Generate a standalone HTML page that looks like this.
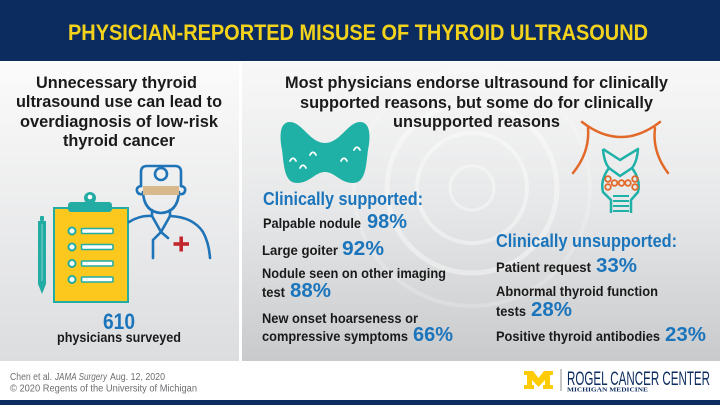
<!DOCTYPE html>
<html><head><meta charset="utf-8"><style>
html,body{margin:0;padding:0;background:#fff;}
svg{display:block;}
text{font-family:"Liberation Sans",sans-serif;}
</style></head><body>
<svg width="720" height="405" viewBox="0 0 720 405" xmlns="http://www.w3.org/2000/svg">
<defs>
<linearGradient id="gl" x1="0" y1="0" x2="0" y2="1">
<stop offset="0" stop-color="#fbfbfb"/><stop offset="1" stop-color="#dcdddf"/></linearGradient>
<linearGradient id="gr" x1="0" y1="0" x2="0" y2="1">
<stop offset="0" stop-color="#f8f8f8"/><stop offset="0.5" stop-color="#e6e7e8"/><stop offset="1" stop-color="#c9cacc"/></linearGradient>
</defs>
<rect width="720" height="405" fill="#ffffff"/>
<!-- header -->
<rect x="0" y="0" width="720" height="61" fill="#0c2c5f"/>
<text x="68" y="40" font-size="22" font-weight="bold" fill="#f3d21c" textLength="580" lengthAdjust="spacingAndGlyphs">PHYSICIAN-REPORTED MISUSE OF THYROID ULTRASOUND</text>
<!-- panels -->
<rect x="0" y="62" width="239" height="299" fill="url(#gl)"/>
<rect x="242" y="62" width="478" height="299" fill="url(#gr)"/>
<g fill="none" stroke="#ffffff" stroke-opacity="0.4">
<circle cx="472" cy="188" r="22" stroke-width="3"/>
<circle cx="472" cy="188" r="55" stroke-width="4"/>
<circle cx="472" cy="188" r="85" stroke-width="5"/>
<circle cx="472" cy="188" r="118" stroke-width="4" stroke-opacity="0.2"/>
</g>
<!-- left heading -->
<g font-weight="bold" font-size="17" fill="#1a1a1a" text-anchor="middle">
<text x="116.5" y="88" textLength="161" lengthAdjust="spacingAndGlyphs">Unnecessary thyroid</text>
<text x="119" y="107" textLength="206" lengthAdjust="spacingAndGlyphs">ultrasound use can lead to</text>
<text x="119" y="127" textLength="198" lengthAdjust="spacingAndGlyphs">overdiagnosis of low-risk</text>
<text x="119" y="146" textLength="112" lengthAdjust="spacingAndGlyphs">thyroid cancer</text>
</g>
<!-- pencil -->
<g fill="#22aca4">
<rect x="40" y="216" width="4" height="5" rx="1"/>
<rect x="38" y="221" width="8" height="63"/>
<polygon points="38,284 46,284 42,294"/>
</g>
<line x1="42" y1="224" x2="42" y2="281" stroke="#7fd3cd" stroke-width="1"/>
<!-- clipboard -->
<rect x="54" y="208" width="74" height="94" fill="#fcc81e" stroke="#22aca4" stroke-width="2"/>
<circle cx="90" cy="198" r="6" fill="#22aca4"/>
<circle cx="90" cy="197" r="2.3" fill="#fff"/>
<rect x="68" y="202" width="44" height="10" rx="3" fill="#22aca4"/>
<g fill="#ffffff" stroke="#22aca4" stroke-width="2">
<circle cx="72" cy="231" r="3.5"/><circle cx="72" cy="247" r="3.5"/><circle cx="72" cy="263.5" r="3.5"/><circle cx="72" cy="279.5" r="3.5"/>
</g>
<g fill="#ffffff" stroke="#22aca4" stroke-width="1.6">
<rect x="81.5" y="228.5" width="31.5" height="5" rx="1"/>
<rect x="81.5" y="244.5" width="31.5" height="5" rx="1"/>
<rect x="81.5" y="261" width="31.5" height="5" rx="1"/>
<rect x="81.5" y="277" width="31.5" height="5" rx="1"/>
</g>
<!-- doctor -->
<g fill="none" stroke="#1f73b7" stroke-width="2.6" stroke-linecap="round" stroke-linejoin="round">
<path d="M141,186 L141,172 Q141,166 147,166 L175,166 Q181,166 181,172 L181,186"/>
<circle cx="161" cy="174" r="6"/>
<path d="M143,192 Q144,212 161,213 Q178,212 179,192"/>
<path d="M141,186 Q136,187 137,191 Q138,195 143,194"/>
<path d="M181,186 Q186,187 185,191 Q184,195 179,194"/>
<path d="M152,210 L152,216 M170,210 L170,216"/>
<path d="M129,222 Q140,215 152,216 L161,232 L170,216 Q193,217 203,232 Q209,243 210,258"/>
<path d="M161,232 L153,240 L153,258"/>
<path d="M161,232 L168,238"/>
</g>
<rect x="143" y="186" width="36" height="9" fill="#d7b98c"/>
<g fill="#c1272d"><rect x="173.5" y="242.2" width="15.5" height="3.6"/><rect x="179.4" y="236.5" width="3.6" height="15"/></g>
<!-- 610 -->
<text x="119" y="329" text-anchor="middle" font-weight="bold" font-size="22" fill="#1b75bc" textLength="32" lengthAdjust="spacingAndGlyphs">610</text>
<text x="119" y="342" text-anchor="middle" font-weight="bold" font-size="13.5" fill="#1a1a1a" textLength="124" lengthAdjust="spacingAndGlyphs">physicians surveyed</text>
<!-- right heading -->
<g font-weight="bold" font-size="17" fill="#1a1a1a">
<text x="285" y="88" textLength="383" lengthAdjust="spacingAndGlyphs">Most physicians endorse ultrasound for clinically</text>
<text x="300" y="108" textLength="353" lengthAdjust="spacingAndGlyphs">supported reasons, but some do for clinically</text>
<text x="393" y="127" textLength="167" lengthAdjust="spacingAndGlyphs">unsupported reasons</text>
</g>
<!-- thyroid icon -->
<path d="M290,122 C280,122 279,135 282,150 C284,165 284,183 297,183 C310,183 315,172 325,172 C335,172 340,183 353,183 C366,183 366,165 368,150 C371,135 370,122 360,122 C348,122 340,143 325,143 C310,143 302,122 290,122 Z" fill="#20b1a6"/>
<g fill="none" stroke="#ffffff" stroke-width="1.8" stroke-linecap="round">
<path d="M290,161 Q293,155.5 296,161"/>
<path d="M310,155 Q313,149.5 316,155"/>
<path d="M300,168 Q303,162.5 306,168"/>
<path d="M341,161 Q344,155.5 347,161"/>
<path d="M354,150 Q357,144.5 360,150"/>
</g>
<!-- unsupported icon -->
<g fill="none" stroke="#e2692a" stroke-width="2.5" stroke-linecap="round">
<path d="M582,122 Q621,152 660,122"/>
<path d="M588,128 Q590,152 573,173"/>
<path d="M655,128 Q652,152 668,173"/>
</g>
<g fill="none" stroke="#1fb0a8" stroke-width="2.5" stroke-linejoin="round">
<path d="M603,149 L620,160 L638,149 Q637,162 632,168 Q641,180 638,192 L631,200 L631,213"/>
<path d="M603,149 Q604,162 609,168 Q600,180 603,192 L611,200 L611,213"/>
<path d="M609,168 L620,176 L632,168"/>
</g>
<g stroke="#1fb0a8" stroke-width="2">
<line x1="613" y1="196" x2="629" y2="196"/><line x1="613" y1="201" x2="629" y2="201"/><line x1="613" y1="206" x2="629" y2="206"/><line x1="613" y1="211" x2="629" y2="211"/>
</g>
<g fill="none" stroke="#e2692a" stroke-width="1.8">
<circle cx="608" cy="179" r="2.8"/><circle cx="608" cy="187" r="2.8"/><circle cx="614.5" cy="183" r="2.8"/>
<circle cx="621.5" cy="183" r="2.8"/><circle cx="628" cy="183" r="2.8"/>
<circle cx="635" cy="179" r="2.8"/><circle cx="635" cy="187" r="2.8"/>
</g>
<!-- supported list -->
<text x="263" y="205" font-weight="bold" font-size="18" fill="#1b75bc" textLength="160" lengthAdjust="spacingAndGlyphs">Clinically supported:</text>
<g font-weight="bold" font-size="14" fill="#1a1a1a">
<text x="263" y="228" textLength="98" lengthAdjust="spacingAndGlyphs">Palpable nodule</text>
<text x="262" y="255" textLength="76" lengthAdjust="spacingAndGlyphs">Large goiter</text>
<text x="262" y="278" textLength="184" lengthAdjust="spacingAndGlyphs">Nodule seen on other imaging</text>
<text x="262" y="297" textLength="23" lengthAdjust="spacingAndGlyphs">test</text>
<text x="262" y="323" textLength="156" lengthAdjust="spacingAndGlyphs">New onset hoarseness or</text>
<text x="262" y="341" textLength="146" lengthAdjust="spacingAndGlyphs">compressive symptoms</text>
<text x="496" y="272" textLength="95" lengthAdjust="spacingAndGlyphs">Patient request</text>
<text x="496" y="296" textLength="162" lengthAdjust="spacingAndGlyphs">Abnormal thyroid function</text>
<text x="496" y="316" textLength="30" lengthAdjust="spacingAndGlyphs">tests</text>
<text x="496" y="341" textLength="164" lengthAdjust="spacingAndGlyphs">Positive thyroid antibodies</text>
</g>
<g font-weight="bold" font-size="20" fill="#1b75bc">
<text x="367" y="228" textLength="40" lengthAdjust="spacingAndGlyphs">98%</text>
<text x="342" y="255" textLength="42" lengthAdjust="spacingAndGlyphs">92%</text>
<text x="290" y="297" textLength="41" lengthAdjust="spacingAndGlyphs">88%</text>
<text x="413" y="341" textLength="40" lengthAdjust="spacingAndGlyphs">66%</text>
<text x="596" y="272" textLength="41" lengthAdjust="spacingAndGlyphs">33%</text>
<text x="531" y="316" textLength="41" lengthAdjust="spacingAndGlyphs">28%</text>
<text x="665" y="341" textLength="41" lengthAdjust="spacingAndGlyphs">23%</text>
</g>
<text x="496" y="247" font-weight="bold" font-size="18" fill="#1b75bc" textLength="181" lengthAdjust="spacingAndGlyphs">Clinically unsupported:</text>
<!-- footer -->
<g font-size="10" fill="#6d6e71">
<text x="10" y="380" textLength="42" lengthAdjust="spacingAndGlyphs">Chen et al.</text>
<text x="55" y="380" font-style="italic" textLength="52" lengthAdjust="spacingAndGlyphs">JAMA Surgery</text>
<text x="110" y="380" textLength="55" lengthAdjust="spacingAndGlyphs">Aug. 12, 2020</text>
<text x="10" y="391.5" textLength="187" lengthAdjust="spacingAndGlyphs">© 2020 Regents of the University of Michigan</text>
</g>
<!-- logo -->
<polygon points="524,371 533,371 538.5,378 544,371 553,371 553,375 550,375 550,385 553,385 553,389 543,389 543,385 545,385 545,380 538.5,387 532,380 532,385 534,385 534,389 524,389 524,385 527,385 527,375 524,375" fill="#ffcb05"/>
<line x1="561" y1="369" x2="561" y2="391" stroke="#8a8c8f" stroke-width="1"/>
<text x="567" y="385" font-size="19" fill="#0c2c5f" textLength="143" lengthAdjust="spacingAndGlyphs">ROGEL CANCER CENTER</text>
<text x="567" y="391.5" font-size="6.5" font-weight="bold" fill="#0c2c5f" style="font-family:'Liberation Serif',serif" textLength="81" lengthAdjust="spacingAndGlyphs">MICHIGAN MEDICINE</text>
<rect x="0" y="400" width="720" height="5" fill="#0c2c5f"/>
</svg>
</body></html>
